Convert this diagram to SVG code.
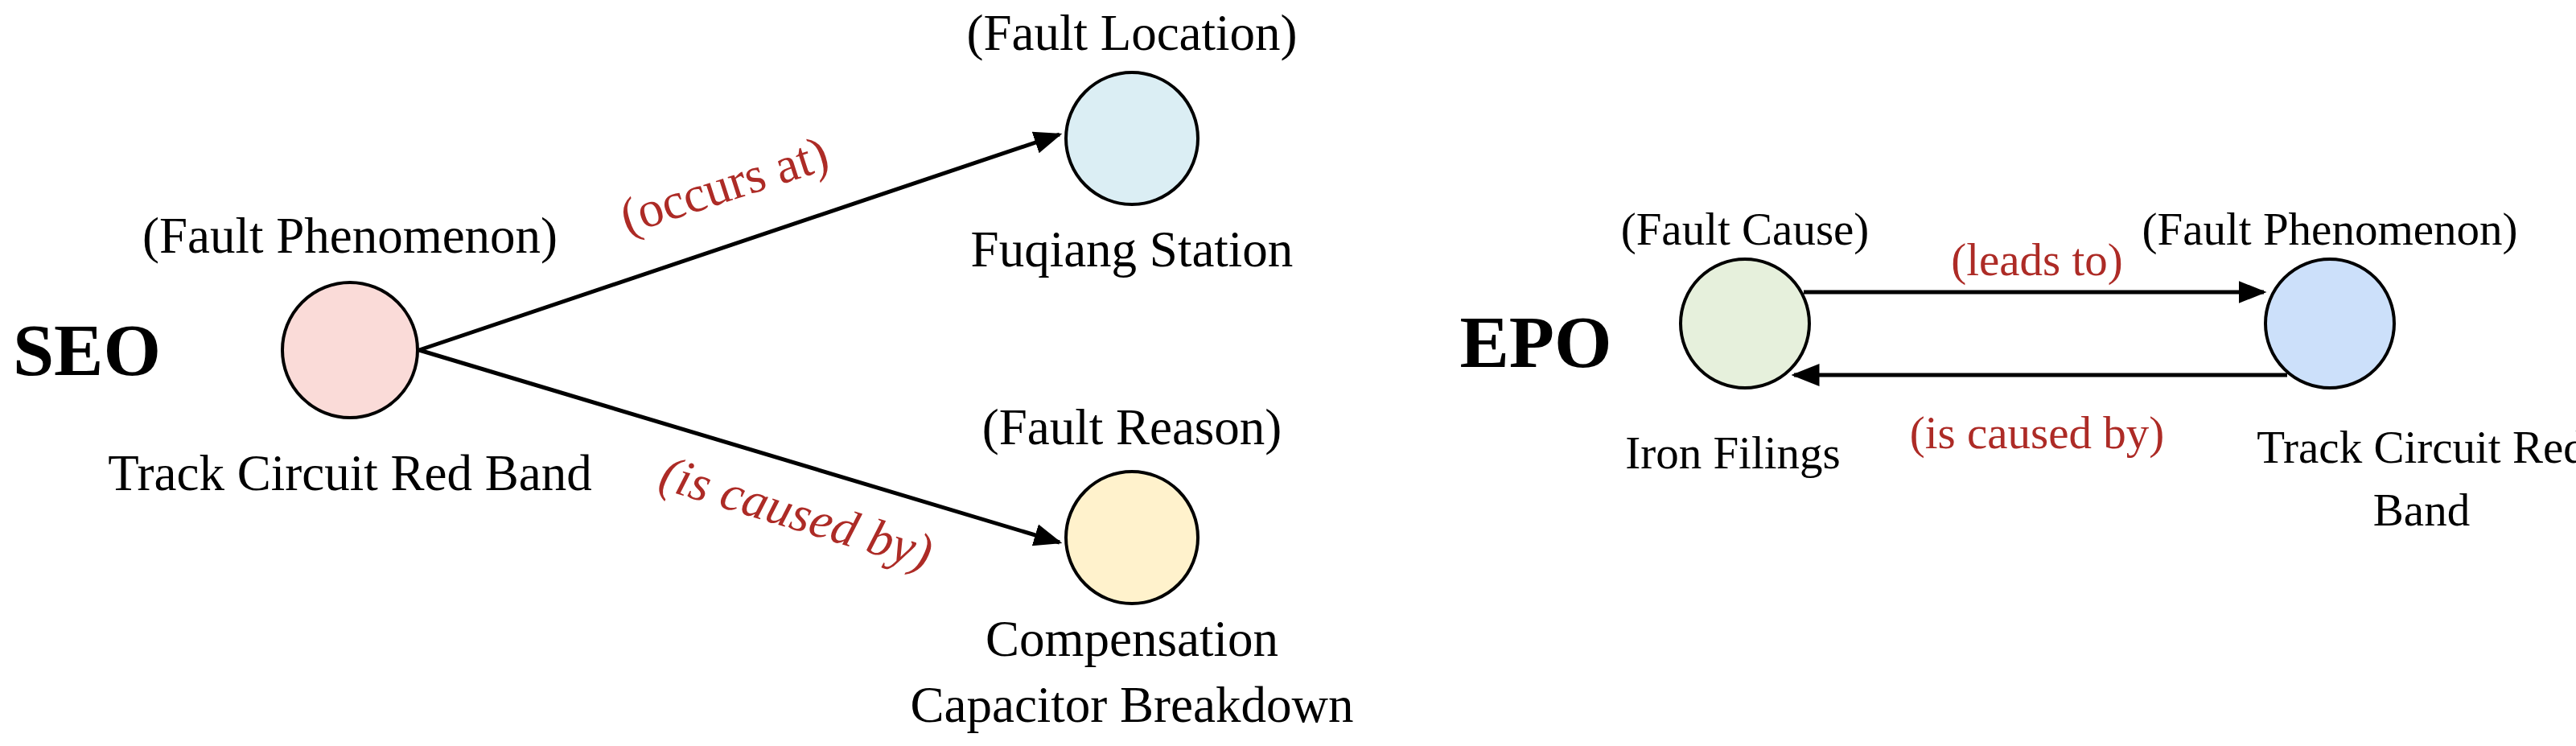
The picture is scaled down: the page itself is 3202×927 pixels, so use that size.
<svg xmlns="http://www.w3.org/2000/svg" width="3202" height="927" viewBox="0 0 3202 927">
<style>
text{font-family:"Liberation Serif","Times New Roman",serif;font-size:63px;fill:#000;text-anchor:middle;dominant-baseline:central}
.r{fill:#ad2b26}
.s{font-size:57px}
.b{font-weight:bold;font-size:92px}
circle{stroke:#000;stroke-width:4}
.e{stroke:#000;stroke-width:5;fill:none;marker-end:url(#ah)}
</style>
<defs><marker id="ah" viewBox="0 0 10 10" refX="9" refY="5" markerWidth="7" markerHeight="7" markerUnits="strokeWidth" orient="auto"><path d="M0,1 L10,5 L0,9 Z" fill="#000"/></marker></defs>
<rect width="3202" height="927" fill="#fff"/>
<text class="b" x="108" y="435">SEO</text>
<text class="b" x="1909" y="425">EPO</text>
<g id="connectors">
<path class="e" d="M521,435 L1317,167"/>
<path class="e" d="M521,435 L1317,674"/>
<path class="e" d="M2242,363 L2814,363"/>
<path class="e" d="M2843,466 L2230,466"/>
<text class="r" x="900" y="230" transform="rotate(-18 900 230)">(occurs at)</text>
<text class="r" x="990" y="637" font-style="italic" transform="rotate(17 990 637)">(is caused by)</text>
<text class="r s" x="2532" y="322">(leads to)</text>
<text class="r s" x="2532" y="537">(is caused by)</text>
</g>
<g id="n1"><circle cx="435" cy="435" r="84" fill="#fadbd8"/><text x="435" y="293">(Fault Phenomenon)</text><text x="435" y="588">Track Circuit Red Band</text></g>
<g id="n2"><circle cx="1407" cy="172" r="82" fill="#dbeef4"/><text x="1407" y="41">(Fault Location)</text><text x="1407" y="310">Fuqiang Station</text></g>
<g id="n3"><circle cx="1407" cy="668" r="82" fill="#fff2cc"/><text x="1407" y="531">(Fault Reason)</text><text x="1407" y="794">Compensation</text><text x="1407" y="876">Capacitor Breakdown</text></g>
<g id="n4"><circle cx="2169" cy="402" r="80" fill="#e6f0dc"/><text class="s" x="2169" y="284">(Fault Cause)</text><text class="s" x="2154" y="562">Iron Filings</text></g>
<g id="n5"><circle cx="2896" cy="402" r="80" fill="#cce0fa"/><text class="s" x="2896" y="284">(Fault Phenomenon)</text><text class="s" x="3010" y="555">Track Circuit Red</text><text class="s" x="3010" y="633">Band</text></g>
</svg>
